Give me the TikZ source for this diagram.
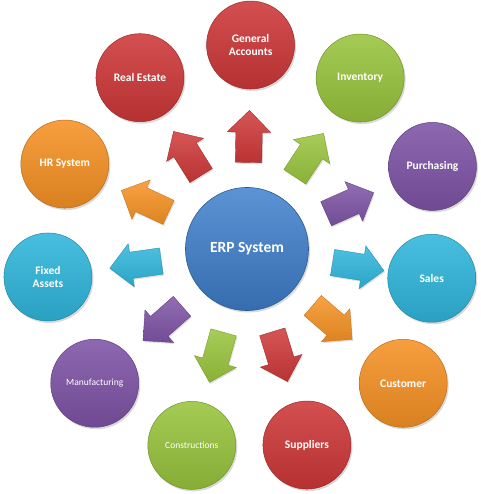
\documentclass[tikz,border=0pt]{standalone}
\usepackage{fontspec}
\setmainfont{Carlito}
\usetikzlibrary{shapes.arrows,shadows,calc}
\definecolor{erpRed}{RGB}{206,56,56}
\definecolor{erpGreen}{RGB}{152,196,60}
\definecolor{erpPurple}{RGB}{126,84,166}
\definecolor{erpCyan}{RGB}{48,182,220}
\definecolor{erpOrange}{RGB}{246,146,36}
\definecolor{erpBlue}{RGB}{62,128,206}

\begin{document}
\begin{tikzpicture}[x=1pt, y=1pt,
  hub/.style={circle, minimum size=123pt, inner sep=2pt, align=center,
              text=white, font=\fontsize{15.5}{18}\selectfont\bfseries,
              top color=erpBlue!85!white, bottom color=erpBlue!85!black,
              draw=erpBlue!70!black, line width=0.6pt,
              drop shadow={opacity=0.3, shadow xshift=1.5pt, shadow yshift=-2pt}},
  module/.style={circle, minimum size=88pt, inner sep=1pt, align=center,
              text=white, font=\fontsize{11.5}{13.5}\selectfont\bfseries,
              top color=#1!88!white, bottom color=#1!88!black,
              draw=#1!75!black, line width=0.5pt,
              drop shadow={opacity=0.3, shadow xshift=1.5pt, shadow yshift=-2pt}},
  modbig/.style={},
  modsmall/.style={font=\fontsize{9.5}{11}\selectfont},
  flow/.style={single arrow, single arrow head extend=8.5pt,
              inner xsep=0pt, inner ysep=13pt, minimum height=52pt,
              top color=#1!85!white, bottom color=#1!90!black,
              draw=#1!80!black, line width=0.4pt,
              drop shadow={opacity=0.25, shadow xshift=1pt, shadow yshift=-1.5pt}}
]
  \useasboundingbox (0,0) rectangle (480,494);

  \node[hub] (erp) at (247,245) {ERP System};

  % modules round the hub, each with its arrow
  \foreach \n/\a/\r/\c/\s/\t in {
      ga/89/204/erpRed/modbig/{General\\Accounts},
      inv/56.5/205/erpGreen/modbig/Inventory,
      pur/24/203/erpPurple/modbig/Purchasing,
      sal/-9/187/erpCyan/modbig/Sales,
      cus/-40.7/206/erpOrange/modbig/Customer,
      sup/-73/205/erpRed/modbig/Suppliers,
      con/-105.7/204/erpGreen/modsmall/Constructions,
      man/-138.6/203/erpPurple/modsmall/Manufacturing,
      fix/-172/201/erpCyan/modbig/{Fixed\\Assets},
      hr/155/201/erpOrange/modbig/HR System,
      re/122/202/erpRed/modbig/Real Estate} {
    \node[module=\c, \s] (\n) at ($(erp)+(\a:\r)$) {\t};
    \node[flow=\c, rotate=\a] (to\n) at ($(erp)!106pt!(\n)$) {};
  }
\end{tikzpicture}
\end{document}
